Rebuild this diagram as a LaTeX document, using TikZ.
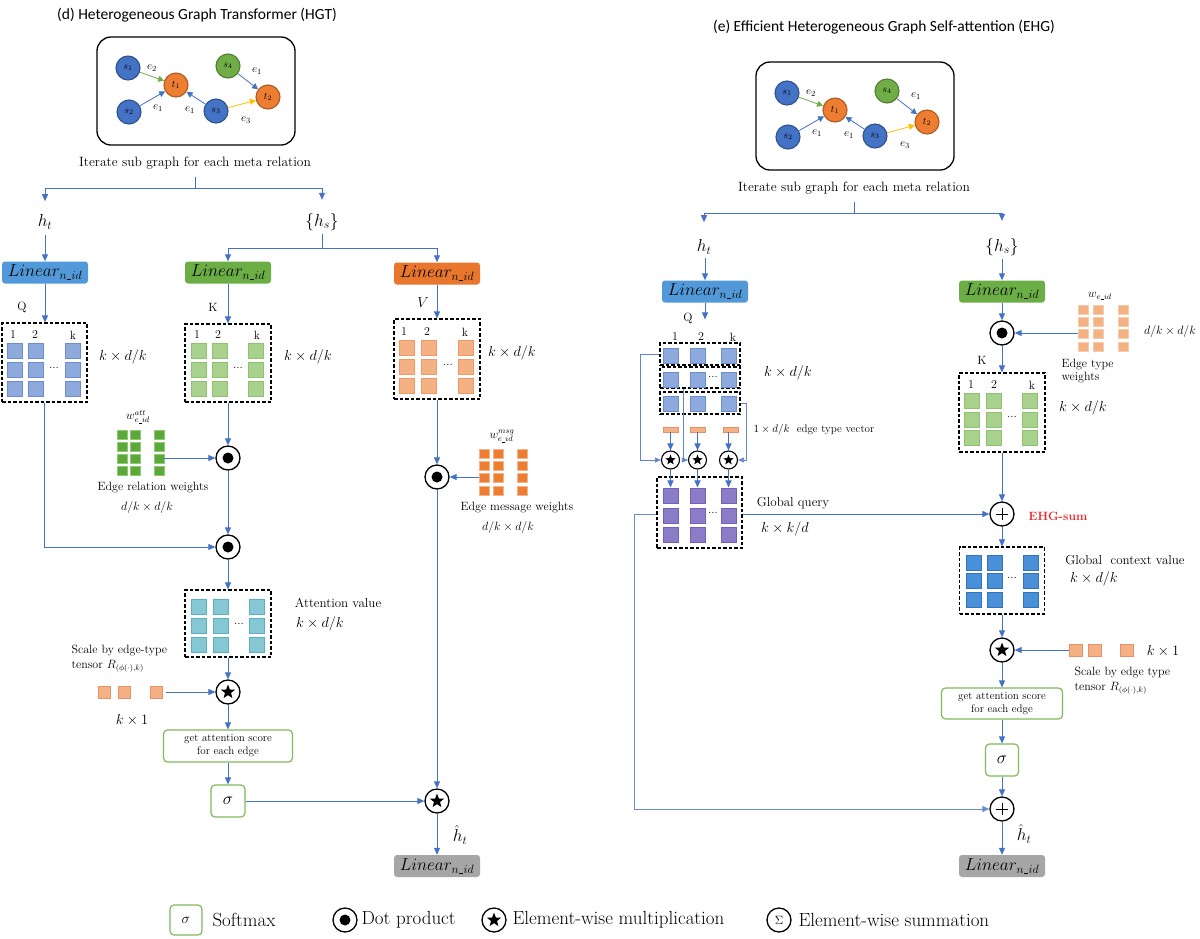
\documentclass[tikz,border=0pt]{standalone}
\usepackage{fontspec}
\newfontfamily\titlefont{Carlito}
\usetikzlibrary{arrows.meta,shapes.geometric}
\definecolor{arrowblue}{HTML}{4472C4}
\definecolor{qfill}{HTML}{8EA9DB}\definecolor{qdraw}{HTML}{6E8CD0}
\definecolor{kfill}{HTML}{A9D18E}\definecolor{kdraw}{HTML}{8DC26F}
\definecolor{vfill}{HTML}{F4B183}\definecolor{vdraw}{HTML}{EE9A68}
\definecolor{attfill}{HTML}{86C7D4}\definecolor{attdraw}{HTML}{5BB0C4}
\definecolor{gcfill}{HTML}{4A90D9}\definecolor{gcdraw}{HTML}{3272BF}
\definecolor{gqfill}{HTML}{8B7CC8}\definecolor{gqdraw}{HTML}{7161B8}
\definecolor{wattfill}{HTML}{5DA83B}\definecolor{wattdraw}{HTML}{8FCB73}
\definecolor{wmsgfill}{HTML}{ED7D31}\definecolor{wmsgdraw}{HTML}{F6B48A}
\definecolor{wetfill}{HTML}{F4B183}\definecolor{wetdraw}{HTML}{F8CBAD}
\definecolor{kxfill}{HTML}{F4B183}\definecolor{kxdraw}{HTML}{E9906A}
\definecolor{linblue}{HTML}{5199D8}
\definecolor{lingreen}{HTML}{6AAE45}
\definecolor{linorange}{HTML}{E8762D}
\definecolor{lingray}{HTML}{A6A6A6}
\definecolor{nblue}{HTML}{4472C4}\definecolor{nbluedraw}{HTML}{2F528F}
\definecolor{norange}{HTML}{ED7D31}\definecolor{norangedraw}{HTML}{AE5A21}
\definecolor{ngreen}{HTML}{70AD47}\definecolor{ngreendraw}{HTML}{507E32}
\definecolor{eyellow}{HTML}{FFC000}
\definecolor{greenbox}{HTML}{7DBB5A}
\definecolor{sumred}{HTML}{E8262A}
\newcommand{\fs}[1]{\fontsize{#1}{#1}\selectfont}
\newcommand{\us}{\mkern1mu\rule[-0.4pt]{0.22em}{0.45pt}\mkern1mu}
\newcommand{\nid}{n\us id}
\newcommand{\eid}{e\us id}
\newcommand{\mgrid}[6]{\foreach \gx in {#1}{\foreach \gy in {#2}{\draw[fill=#5,draw=#6,line width=0.5pt] (\gx,\gy) rectangle ++(#3,#4);}}}
\newcommand{\metagraph}[1]{%
  \node[draw, line width=1.3pt, rounded corners=14pt, minimum width=198, minimum height=108, inner sep=0] (#1box) at (99,54) {};
  \node[gn, fill=nblue, draw=nbluedraw] (#1s1) at (31,31) {$s_1$};
  \node[gn, fill=norange, draw=norangedraw] (#1t1) at (79,48) {$t_1$};
  \node[gn, fill=nblue, draw=nbluedraw] (#1s2) at (32,75) {$s_2$};
  \node[gn, fill=nblue, draw=nbluedraw] (#1s3) at (119,74) {$s_3$};
  \node[gn, fill=ngreen, draw=ngreendraw] (#1s4) at (131,29) {$s_4$};
  \node[gn, fill=norange, draw=norangedraw] (#1t2) at (171,60) {$t_2$};
  \draw[garr, draw=ngreen] (#1s1) -- (#1t1);
  \draw[garr, draw=nblue] (#1s2) -- (#1t1);
  \draw[garr, draw=nblue] (#1s3) -- (#1t1);
  \draw[garr, draw=nblue] (#1s4) -- (#1t2);
  \draw[garr, draw=eyellow] (#1s3) -- (#1t2);
  \node[el] (#1l1) at (55,31) {$e_2$};
  \node[el] (#1l2) at (61,71) {$e_1$};
  \node[el] (#1l3) at (93,73) {$e_1$};
  \node[el] (#1l4) at (160,34) {$e_1$};
  \node[el] (#1l5) at (149,83) {$e_3$};
  \node[font=\fs{13.5}] (#1it) at (98,126) {Iterate sub graph for each meta relation};
  \coordinate (#1j) at (98,151);
  \draw[ln, shorten <=4pt] (#1it.south) -- (#1j);
}
\begin{document}
\begin{tikzpicture}[x=1pt,y=-1pt,
  gn/.style={circle, minimum size=24, inner sep=0, line width=1.1pt, font=\fs{10}},
  garr/.style={line width=0.8pt, -{Triangle[length=6pt,width=6pt]}},
  el/.style={font=\fs{11}},
  lbl/.style={font=\fontsize{12}{14}\selectfont},
  mlbl/.style={font=\fs{14}},
  hlbl/.style={font=\fs{18}},
  nlbl/.style={font=\fs{12}},
  linbox/.style={rounded corners=3pt, minimum width=86, minimum height=22, inner sep=0, font=\fs{17}},
  dbox/.style={draw=black, dash pattern=on 3.5pt off 2pt, line width=1.1pt, inner sep=0},
  arr/.style={draw=arrowblue, line width=1pt, -{Triangle[length=7pt,width=6pt]}},
  tarr/.style={draw=arrowblue!85, line width=0.7pt, -{Triangle[length=6pt,width=5pt]}},
  ln/.style={draw=arrowblue, line width=1pt},
  op/.style={circle, draw=black, line width=1.3pt, minimum size=24, inner sep=0, fill=white},
  dotop/.style={op, path picture={\fill[black] (path picture bounding box.center) circle[radius=5.5pt];}},
  plusop/.style={op, path picture={\draw[line width=0.9pt] ([xshift=-6pt]path picture bounding box.center) -- ([xshift=6pt]path picture bounding box.center) ([yshift=-6pt]path picture bounding box.center) -- ([yshift=6pt]path picture bounding box.center);}},
  starsym/.style={star, star points=5, star point ratio=2.4, fill=black, minimum size=15, inner sep=0},
  gbox/.style={draw=greenbox, line width=1.2pt, rounded corners=4pt, fill=white, inner sep=0},
  grid/.style={inner sep=0},
  bar/.style={fill=kxfill, draw=kxdraw, line width=0.5pt, minimum width=15, minimum height=5, inner sep=0}
]
\useasboundingbox (0,0) rectangle (1200,938);
\fill[white] (0,0) rectangle (1200,938);

% ================= titles =================
\node[font=\titlefont\fs{15.5}] (titleD) at (197,15) {(d) Heterogeneous Graph Transformer (HGT)};
\node[font=\titlefont\fs{15.5}] (titleE) at (884,27) {(e) Efficient Heterogeneous Graph Self-attention (EHG)};

\begin{scope}[shift={(97,37)}]\metagraph{D}\end{scope}
\begin{scope}[shift={(756,62)}]\metagraph{E}\end{scope}

% ================= HGT =================
\node[hlbl] (htD) at (45,222) {$h_t$};
\node[hlbl] (hsD) at (322,222) {$\{h_s\}$};
\draw[arr, shorten >=10pt] (Dj) -| (htD.north);
\draw[arr, shorten >=10pt] (Dj) -| (hsD.north);

\node[linbox, fill=linblue] (LQD) at (45,272.5) {$Linear_{\nid}$};
\node[linbox, fill=lingreen] (LKD) at (228,272.5) {$Linear_{\nid}$};
\node[linbox, fill=linorange] (LVD) at (437,273.5) {$Linear_{\nid}$};
\draw[arr, shorten <=2pt] (htD.south) -- (LQD.north);
\coordinate (jsD) at (322,248);
\draw[ln] (hsD.south) -- (jsD);
\draw[arr] (jsD) -| (LKD.north);
\draw[arr] (jsD) -| (LVD.north);

\node[nlbl] (qlD) at (22,307) {Q};
\node[nlbl] (klD) at (213,307) {K};
\node[mlbl] (vlD) at (423,303) {$V$};

\node[dbox, minimum width=85, minimum height=79] (QD) at (44.5,362.5) {};
\node[dbox, minimum width=86, minimum height=78] (KD) at (228,363) {};
\node[dbox, minimum width=86, minimum height=80] (VD) at (437,359) {};
\draw[arr] (LQD.south) -- (LQD.south |- QD.north);
\draw[arr] (LKD.south) -- (KD.north);
\draw[arr] (LVD.south) -- (VD.north);

\mgrid{7,28,65}{343,362,381}{15}{15}{qfill}{qdraw}
\mgrid{191,212,248}{343,362,381}{15}{15}{kfill}{kdraw}
\mgrid{399,421,458}{340,359,378}{15}{15}{vfill}{vdraw}
\node[nlbl] (qn1) at (13,335) {1}; \node[nlbl] (qn2) at (35,335) {2}; \node[nlbl] (qn3) at (73,335) {k};
\node[nlbl] (kn1) at (197,335) {1}; \node[nlbl] (kn2) at (218,335) {2}; \node[nlbl] (kn3) at (257,335) {k};
\node[nlbl] (vn1) at (404,332) {1}; \node[nlbl] (vn2) at (427,332) {2}; \node[nlbl] (vn3) at (465,332) {k};
\node[nlbl] (qdots) at (54,368) {...};
\node[nlbl] (kdots) at (238,368) {...};
\node[nlbl] (vdots) at (448,365) {...};
\node[mlbl] (qdimD) at (123,357) {$k\times d/k$};
\node[mlbl] (kdimD) at (308,357) {$k\times d/k$};
\node[mlbl] (vdimD) at (512,353) {$k\times d/k$};

% edge relation weights
\node[grid, minimum width=47, minimum height=45] (wattD) at (140.5,452.5) {};
\mgrid{117,130,154}{430,442,454,466}{10}{9}{wattfill}{wattdraw}
\node[font=\fs{12}, inner sep=1pt] (wattlD) at (138,417) {$w^{att}_{\eid}$};
\node[lbl] (erwD) at (153,488) {Edge relation weights};
\node[lbl] (erdD) at (147,507) {$d/k\times d/k$};

\node[dotop] (d1D) at (228,458) {};
\draw[arr] (KD.south) -- (d1D.north);
\draw[arr] (wattD.east |- d1D) -- (d1D.west);

\node[dotop] (d2D) at (228,547) {};
\draw[arr] (d1D.south) -- (d2D.north);
\draw[arr] (QD.south) |- (d2D.west);

% attention value
\node[dbox, minimum width=86, minimum height=67] (AD) at (228,623.5) {};
\mgrid{191,213,249}{599,618,637}{15}{15}{attfill}{attdraw}
\node[nlbl] (adots) at (239,624) {...};
\draw[arr] (d2D.south) -- (AD.north);
\node[font=\fs{13}] (avD) at (338,603) {Attention value};
\node[mlbl] (avdD) at (320,624) {$k\times d/k$};

% scale
\node[op] (x1D) at (228,692) {};
\node[starsym] (x1Ds) at (x1D) {};
\draw[arr] (AD.south) -- (x1D.north);
\node[grid, minimum width=64, minimum height=12] (kxD) at (130,692) {};
\mgrid{98,118,150}{686}{12}{12}{kxfill}{kxdraw}
\draw[arr, shorten <=4pt] (kxD.east) -- (x1D.west);
\node[anchor=west, align=left, font=\fontsize{12}{15}\selectfont] (scD) at (68,659) {Scale by edge-type\\tensor $R_{(\phi(\cdot),k)}$};
\node[mlbl] (kx1D) at (132,720) {$k\times 1$};

\node[gbox, minimum width=129, minimum height=32, align=center, font=\fontsize{11}{13}\selectfont] (gaD) at (228,746) {get attention score\\for each edge};
\draw[arr] (x1D.south) -- (gaD.north);
\node[gbox, minimum width=34, minimum height=32, font=\fs{16}] (sgD) at (228,801) {$\sigma$};
\draw[arr] (gaD.south) -- (sgD.north);

% message
\node[dotop] (d3D) at (437,477) {};
\draw[arr] (VD.south) -- (d3D.north);
\node[grid, minimum width=48, minimum height=46] (wmD) at (503,472) {};
\mgrid{479,493,517}{449,461,473,486}{10}{9}{wmsgfill}{wmsgdraw}
\draw[arr] (wmD.west |- d3D) -- (d3D.east);
\node[font=\fs{12}, inner sep=1pt] (wmlD) at (502,436) {$w^{msg}_{\eid}$};
\node[lbl] (emwD) at (517,508) {Edge message weights};
\node[lbl] (emdD) at (508,527) {$d/k\times d/k$};

\node[op] (x2D) at (437,801) {};
\node[starsym] (x2Ds) at (x2D) {};
\draw[arr] (d3D.south) -- (x2D.north);
\draw[arr] (sgD.east) -- (x2D.west);
\node[font=\fs{17}, inner sep=1pt] (hhD) at (460,835) {$\hat{h}_t$};
\node[linbox, fill=lingray] (LOD) at (437,866) {$Linear_{\nid}$};
\draw[arr] (x2D.south) -- (LOD.north);

% ================= EHG =================
\node[hlbl] (htE) at (704,247) {$h_t$};
\node[hlbl] (hsE) at (1002,247) {$\{h_s\}$};
\draw[arr, shorten >=14pt] (Ej) -| (htE.north);
\draw[arr, shorten >=14pt] (Ej) -| (hsE.north);

\node[linbox, fill=linblue] (LQE) at (705,291.5) {$Linear_{\nid}$};
\node[linbox, fill=lingreen] (LKE) at (1002,291.5) {$Linear_{\nid}$};
\draw[arr] (htE.south -| LQE.north) -- (LQE.north);
\draw[arr] (hsE.south) -- (LKE.north);

\node[nlbl] (qlE) at (688,318) {Q};
\node[dbox, minimum width=80, minimum height=22] (R1E) at (700,354) {};
\node[dbox, minimum width=80, minimum height=21] (R2E) at (700,377.5) {};
\node[dbox, minimum width=80, minimum height=22] (R3E) at (700,403) {};
\draw[arr, shorten >=23pt] (LQE.south) -- (LQE.south |- R1E.north);
\node[nlbl] (en1) at (675,337) {1}; \node[nlbl] (en2) at (701,337) {2}; \node[nlbl] (en3) at (733,337) {k};
\mgrid{663,690,721}{348,372,396}{15}{15}{qfill}{qdraw}
\node[nlbl] (edots) at (713,377) {...};
\node[mlbl] (qdimE) at (788,373) {$k\times d/k$};

\node[bar] (b1E) at (670.5,429.5) {};
\node[bar] (b2E) at (697.5,429.5) {};
\node[bar] (b3E) at (730.5,429.5) {};
\node[anchor=west, font=\fs{11}] (etvE) at (750,430) {$1\times d/k$\ \ edge type vector};

\node[op, minimum size=18, line width=1.1pt] (x1E) at (670.5,460) {};
\node[op, minimum size=18, line width=1.1pt] (x2E) at (697.5,460) {};
\node[op, minimum size=18, line width=1.1pt] (x3E) at (728.5,460) {};
\node[starsym, minimum size=11] (x1Es) at (x1E) {};
\node[starsym, minimum size=11] (x2Es) at (x2E) {};
\node[starsym, minimum size=11] (x3Es) at (x3E) {};
\draw[arr] (b1E.south) -- (x1E.north);
\draw[arr] (b2E.south) -- (x2E.north);
\draw[arr] (b3E.south -| x3E.north) -- (x3E.north);
\draw[tarr] (R1E.west) -- ++(-19,0) |- (x1E.west);
\draw[tarr] ([xshift=-17pt]R2E.south) |- (x2E.west);
\draw[tarr] (R3E.east) -- ++(6,0) |- (x3E.east);

\node[dbox, minimum width=85, minimum height=71] (GQE) at (699.5,512.5) {};
\mgrid{663,690,721}{488,508,527}{15}{15}{gqfill}{gqdraw}
\node[nlbl] (gqdots) at (713,513) {...};
\draw[arr, shorten >=-11pt] (x1E.south) -- (x1E.south |- GQE.north);
\draw[arr, shorten >=-11pt] (x2E.south) -- (x2E.south |- GQE.north);
\draw[arr, shorten >=-11pt] (x3E.south) -- (x3E.south |- GQE.north);
\node[font=\fs{13}] (gqlE) at (793,503) {Global query};
\node[mlbl] (gqdE) at (785,529) {$k\times k/d$};

% right column
\node[dotop] (d1E) at (1002,333) {};
\draw[arr] (LKE.south) -- (d1E.north);
\node[grid, minimum width=50, minimum height=46] (wetE) at (1103,328) {};
\mgrid{1078,1093,1118}{305,317,329,342}{10}{9}{wetfill}{wetdraw}
\draw[arr] (wetE.west |- d1E) -- (d1E.east);
\node[font=\fs{12}, inner sep=1pt] (wetlE) at (1100,296) {$w_{\eid}$};
\node[font=\fs{12}] (wetdE) at (1170,331) {$d/k\times d/k$};
\node[anchor=west, align=left, font=\fontsize{12}{13}\selectfont] (etwE) at (1058,371) {Edge type\\weights};

\node[nlbl] (klE) at (982,360) {K};
\node[dbox, minimum width=86, minimum height=79] (K2E) at (1002,412.5) {};
\draw[arr] (d1E.south) -- (K2E.north);
\mgrid{964,986,1022}{393,412,430}{15}{15}{kfill}{kdraw}
\node[nlbl] (kn1E) at (971,385) {1}; \node[nlbl] (kn2E) at (994,385) {2}; \node[nlbl] (kn3E) at (1032,385) {k};
\node[nlbl] (k2dots) at (1012,417) {...};
\node[mlbl] (kdimE) at (1083,408) {$k\times d/k$};

\node[plusop] (p1E) at (1002,514) {};
\draw[arr] (K2E.south) -- (p1E.north);
\draw[arr] (GQE.east |- p1E) -- (p1E.west);
\node[font=\bfseries\fs{12}, text=sumred] (sumE) at (1058,516) {EHG-sum};

\node[dbox, minimum width=85, minimum height=67] (GCE) at (1002,580.5) {};
\draw[arr] (p1E.south) -- (GCE.north);
\mgrid{966,987,1023}{555,573,592}{15}{15}{gcfill}{gcdraw}
\node[nlbl] (gcdots) at (1012,578) {...};
\node[font=\fs{13}] (gclE) at (1125,560) {Global\ \ context value};
\node[mlbl] (gcdE) at (1094,579) {$k\times d/k$};

\node[op] (x4E) at (1002,650) {};
\node[starsym] (x4Es) at (x4E) {};
\draw[arr] (GCE.south) -- (x4E.north);
\node[grid, minimum width=64, minimum height=12] (kxE) at (1101,650) {};
\mgrid{1069,1088,1120}{644}{13}{12}{kxfill}{kxdraw}
\draw[arr] (kxE.west) -- (x4E.east);
\node[mlbl] (kx1E) at (1163,651) {$k\times 1$};
\node[anchor=west, align=left, font=\fontsize{12}{15}\selectfont] (scE) at (1071,681) {Scale by edge type\\tensor $R_{(\phi(\cdot),k)}$};

\node[gbox, minimum width=121, minimum height=31, align=center, font=\fontsize{11}{13}\selectfont] (gaE) at (1002,703.5) {get attention score\\for each edge};
\draw[arr] (x4E.south) -- (gaE.north);
\node[gbox, minimum width=33, minimum height=32, font=\fs{16}] (sgE) at (1002,760) {$\sigma$};
\draw[arr] (gaE.south) -- (sgE.north);
\node[plusop] (p2E) at (1002,809) {};
\draw[arr] (sgE.south) -- (p2E.north);
\draw[arr, draw=arrowblue!80, line width=0.8pt] (GQE.west |- p1E) -- ++(-22,0) |- (p2E.west);
\node[font=\fs{17}, inner sep=1pt] (hhE) at (1024,834) {$\hat{h}_t$};
\node[linbox, fill=lingray] (LOE) at (1002,866) {$Linear_{\nid}$};
\draw[arr] (p2E.south) -- (LOE.north);

% ================= legend =================
\node[gbox, minimum width=32, minimum height=30, font=\fs{15}] (lg1) at (186,920) {$\sigma$};
\node[anchor=west, font=\fs{19}] (lg1t) at (209,920) {Softmax};
\node[dotop] (lg2) at (345,920) {};
\node[anchor=west, font=\fs{19}] (lg2t) at (358,920) {Dot product};
\node[op] (lg3) at (494,920) {};
\node[starsym] (lg3s) at (lg3) {};
\node[anchor=west, font=\fs{19}] (lg3t) at (509,920) {Element-wise multiplication};
\node[op, font=\fs{13}] (lg4) at (779,920) {$\Sigma$};
\node[anchor=west, font=\fs{19}] (lg4t) at (795,920) {Element-wise summation};
\end{tikzpicture}
\end{document}
